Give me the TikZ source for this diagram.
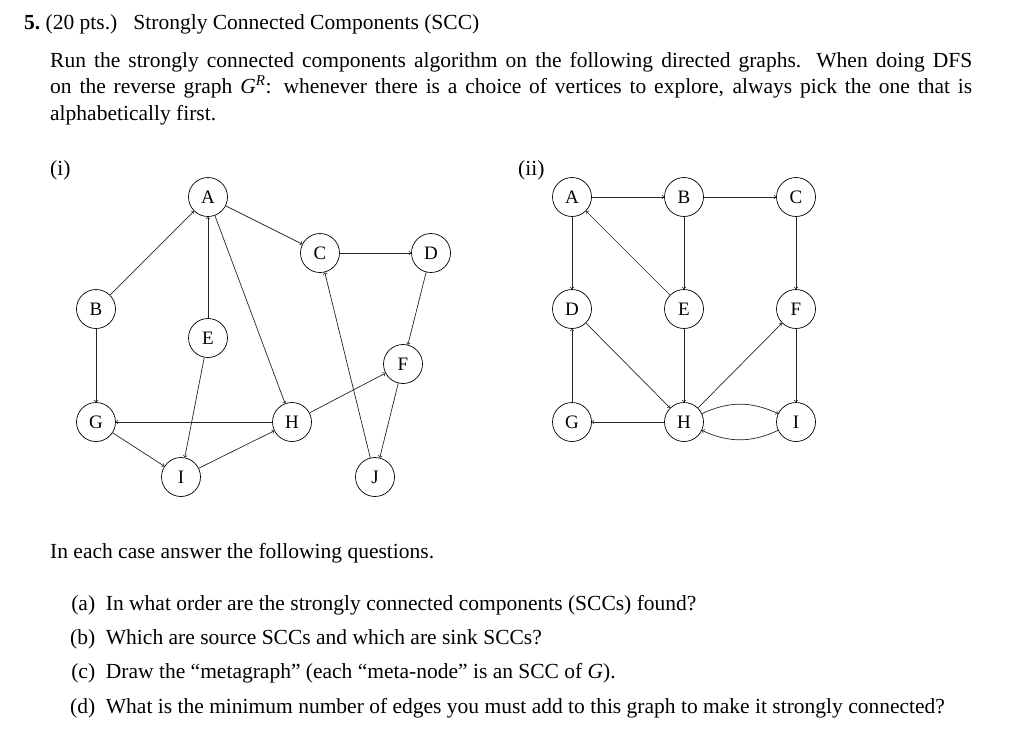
\documentclass[tikz,border=0pt]{standalone}
\usepackage{fontspec}
\setmainfont{Liberation Serif}
\begin{document}
\begin{tikzpicture}[x=1pt,y=-1pt,
  v/.style={draw,circle,minimum size=39pt,inner sep=0pt,font=\fontsize{19}{21}\selectfont,line width=0.7pt},
  e/.style={->,>=to,line width=0.7pt,draw=black!85},
  txt/.style={anchor=base west,inner sep=0pt,font=\fontsize{21.5}{24}\selectfont}]
\useasboundingbox (0,0) rectangle (1024,748);
\node[txt] (t0) at (24,29) {\textbf{5.}\ (20 pts.)\ \ \ Strongly Connected Components (SCC)};
\node[txt] (p1) at (50,67) {\makebox[922pt][s]{Run the strongly connected components algorithm on the following directed graphs. When doing DFS}};
\node[txt] (p2) at (50,93) {\makebox[922pt][s]{on the reverse graph \textit{G}\textsuperscript{\textit{R}}: whenever there is a choice of vertices to explore, always pick the one that is}};
\node[txt] (p3) at (50,120) {alphabetically first.};
\node[txt] (l1) at (50,175) {(i)};
\node[txt] (l2) at (518,175) {(ii)};
\node[txt] (q0) at (50,558) {In each case answer the following questions.};
\node[txt] (qa) at (62,610) {\makebox[33pt][r]{(a)}\ \ In what order are the strongly connected components (SCCs) found?};
\node[txt] (qb) at (62,644) {\makebox[33pt][r]{(b)}\ \ Which are source SCCs and which are sink SCCs?};
\node[txt] (qc) at (62,678) {\makebox[33pt][r]{(c)}\ \ Draw the “metagraph” (each “meta-node” is an SCC of \textit{G}).};
\node[txt] (qd) at (62,713) {\makebox[33pt][r]{(d)}\ \ What is the minimum number of edges you must add to this graph to make it strongly connected?};
% graph i
\node[v] (A) at (208,197) {A};
\node[v] (C) at (320,253) {C};
\node[v] (D) at (431,253) {D};
\node[v] (B) at (96,309) {B};
\node[v] (E) at (208,338) {E};
\node[v] (F) at (403,364) {F};
\node[v] (G) at (96,422) {G};
\node[v] (H) at (292,422) {H};
\node[v] (I) at (181,477) {I};
\node[v] (J) at (375,477) {J};
\draw[e] (B)--(A); \draw[e] (E)--(A); \draw[e] (A)--(C); \draw[e] (A)--(H);
\draw[e] (C)--(D); \draw[e] (D)--(F); \draw[e] (F)--(J); \draw[e] (J)--(C);
\draw[e] (H)--(F); \draw[e] (H)--(G); \draw[e] (B)--(G); \draw[e] (G)--(I);
\draw[e] (E)--(I); \draw[e] (I)--(H);
% graph ii
\node[v] (a2) at (572,197) {A};
\node[v] (b2) at (684,197) {B};
\node[v] (c2) at (796,197) {C};
\node[v] (d2) at (572,309) {D};
\node[v] (e2) at (684,309) {E};
\node[v] (f2) at (796,309) {F};
\node[v] (g2) at (572,422) {G};
\node[v] (h2) at (684,422) {H};
\node[v] (i2) at (796,422) {I};
\draw[e] (a2)--(b2); \draw[e] (b2)--(c2); \draw[e] (a2)--(d2); \draw[e] (e2)--(a2);
\draw[e] (b2)--(e2); \draw[e] (c2)--(f2); \draw[e] (d2)--(h2); \draw[e] (e2)--(h2);
\draw[e] (h2)--(f2); \draw[e] (f2)--(i2); \draw[e] (g2)--(d2); \draw[e] (h2)--(g2);
\draw[e] (h2) to[bend left=25] (i2); \draw[e] (i2) to[bend left=25] (h2);
\end{tikzpicture}
\end{document}
